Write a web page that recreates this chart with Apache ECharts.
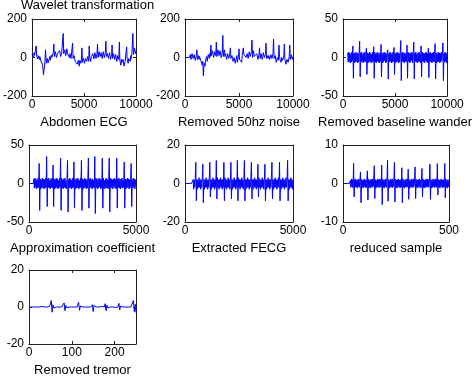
<!DOCTYPE html>
<html><head><meta charset="utf-8">
<script src="https://cdn.jsdelivr.net/npm/echarts@6/dist/echarts.min.js"></script>
<style>html,body{margin:0;padding:0;background:#fff}#c{width:474px;height:378px}</style>
</head><body><div id="c"></div>
<script>
const FIG_TITLE = 'Wavelet transformation';
const panelNames = ['Abdomen ECG','Removed 50hz noise','Removed baseline wander','Approximation coefficient','Extracted FECG','reduced sample','Removed tremor'];
const xMaxes = [10000,10000,10000,5000,5000,500,250];
const xSteps = [50,50,50,25,25,2.5,2];
const xTickLabels = [[0,5000,10000],[0,5000,10000],[0,5000,10000],[0,5000],[0,5000],[0,500],[0,100,200]];
const yLimits = [200,200,50,50,20,10,20];
const yTickLabels = [[-200,0,200],[-200,0,200],[-50,0,50],[-50,0,50],[-20,0,20],[-10,0,10],[-20,0,20]];

const abdomenECG = [
 20,30,10,-2,25,12,5,18,60,5,
 0,-8,10,2,-10,5,-5,-18,-25,-10,
 -35,-55,-90,-65,-50,-20,40,-15,-30,-5,
 -15,-28,-20,-8,5,-15,-10,12,0,-5,
 10,25,70,5,10,30,20,0,5,20,
 30,10,15,35,25,5,10,22,30,15,
 125,20,15,40,30,10,20,45,35,15,
 10,25,0,20,15,-5,-10,5,75,-5,
 -15,10,-5,-20,-30,-10,-20,-35,-40,-15,
 -25,-45,-15,-20,-30,-10,50,-25,-20,-5,
 -10,-30,-25,-5,0,-20,-15,5,-5,-20,
 60,0,-10,-20,5,15,-5,20,10,-8,
 0,25,15,-5,5,20,70,0,10,30,
 20,5,0,25,15,-5,5,30,20,0,
 10,25,85,5,0,20,15,-5,5,25,
 10,-10,-5,15,65,-5,0,20,10,-10,
 -5,15,5,-20,-15,10,0,-10,80,-15,
 -20,-40,-10,-25,-30,-10,-20,-45,-35,-20,
 -15,-30,55,-10,-20,-30,-5,5,-15,-20,
 10,-5,20,30,125,15,30,50,45,20,
 35];
const removed50hz = [
 0,0,0,0,0,0,0,0,0,5,
 15,-10,5,20,25,-5,0,15,10,-15,
 -5,10,40,-10,0,10,-10,5,15,-15,
 -25,-5,-40,-20,-95,-50,-30,-45,-15,-5,
 5,-20,-10,15,10,-5,20,5,65,10,
 15,35,25,0,10,30,30,10,80,5,
 20,40,35,10,15,35,30,0,10,25,
 115,5,25,40,5,20,20,-10,0,20,
 15,-5,-10,20,50,-5,-15,10,-5,-20,
 -25,0,-10,-30,-30,-5,10,-25,-15,5,
 45,-10,-20,0,-5,-25,10,0,50,15,
 5,25,20,0,0,20,15,-5,5,30,
 25,5,10,30,90,0,20,35,5,15,
 15,-5,-5,20,10,-10,-10,15,50,-5,
 0,20,15,-10,5,25,20,0,0,20,
 75,-5,10,20,-5,10,15,-10,0,15,
 10,-5,-10,20,95,-5,-15,10,5,-25,
 -20,0,-5,-15,65,5,-10,-20,-25,0,
 5,-15,-20,10,70,-10,-15,-35,-30,-10,
 0,-25,-15,5,65,-10,-5,15,10,-10,
 0];
const removedBaseline = [
 null,null,null,null,null,null,null,null,null,6,
 -6,7,-5,6,-7,4,-6,7,-4,15,
 -27,6,-7,5,-6,7,-5,6,-7,5,
 -6,7,21,-25,6,-5,7,-6,4,-7,
 6,-5,7,-6,5,12,-22,6,-7,5,
 -6,7,-5,6,-7,4,-6,7,-5,14,
 -27,7,-6,5,-7,6,-5,7,-6,4,
 -7,6,-5,17,-25,6,-7,5,-6,7,
 -4,6,-7,5,-6,7,10,-28,5,-6,
 7,-5,6,-7,4,-6,7,-5,13,-22,
 6,-7,5,-6,7,-5,6,-7,5,-6,
 7,22,-30,6,-5,7,-6,5,-7,6,
 -5,4,-6,16,-27,7,-5,6,-7,5,
 -6,7,-4,6,-7,5,20,-28,6,-5,
 7,-6,4,-7,6,-5,7,-6,5,-7,
 15,-25,7,-5,6,-6,5,-7,6,-4,
 7,-6,5,-7,12,-26,6,-5,7,-6,
 5,-7,6,-5,7,-6,4,18,-28,6,
 -7,5,-6,7,-5,6,-7,5,-6,7,
 -4,6,19,-30,5,-6,7,-5,6,-7,
 5];
const approxCoeff = [
 0,0,0,0,0,0,0,0,0,6,
 -6,7,-5,6,-7,4,-6,7,-5,26,
 -35,6,-7,5,-6,7,-5,6,-7,5,
 -6,7,-5,35,-30,6,-5,7,-6,4,
 -7,6,-5,7,-6,24,-30,6,-7,5,
 -6,7,-5,6,-7,4,-6,7,-5,33,
 -35,7,-6,5,-7,6,-5,7,-6,4,
 -7,6,30,-37,5,-6,7,-5,6,-7,
 4,-6,7,-5,28,-32,6,-7,5,-6,
 7,-5,6,-7,4,-6,7,-5,30,-35,
 6,-7,5,-6,7,-5,6,-7,5,-6,
 7,33,-32,6,-5,7,-6,5,-7,6,
 -5,4,-6,35,-39,7,-5,6,-7,5,
 -6,7,-4,6,-7,5,-6,33,-32,7,
 -6,4,-7,6,-5,7,-6,5,-7,6,
 33,-37,7,-5,6,-6,5,-7,6,-4,
 7,-6,5,-7,33,-32,6,-5,7,-6,
 5,-7,6,-5,7,-6,4,-5,28,-32,
 6,-7,5,-6,7,-5,6,-7,5,-6,
 7,26,-30,5,-6,7,-5,6,-7,5,
 -4];
const extractedFECG = [
 0,0,0,0,0,0,0,0,0,0,
 0,0,0,0,0,2,-3,2,-2,3,
 11,-9,2,-3,2,-2,3,-2,2,-3,
 2,-2,3,10,-10,2,-3,2,-2,3,
 -2,2,-3,2,-2,3,11,-7,2,-3,
 2,-2,3,-2,2,-3,2,-2,12,-8,
 3,-2,2,-3,2,-2,3,-2,2,-3,
 2,-2,11,-9,3,-2,2,-3,2,-2,
 3,-2,2,-3,2,11,-8,2,-3,2,
 -2,3,-2,2,-3,2,-2,12,-9,3,
 -2,2,-3,2,-2,3,-2,2,-3,2,
 12,-9,2,-3,2,-2,3,-2,2,-3,
 2,-2,3,11,-8,2,-3,2,-2,3,
 -2,2,-3,2,-2,10,-7,3,-2,2,
 -3,2,-2,3,-2,2,-3,2,10,-9,
 2,-3,2,-2,3,-2,2,-3,2,-2,
 3,11,-8,2,-3,2,-2,3,-2,2,
 -3,2,-2,3,-2,11,-9,2,-3,2,
 -2,3,-2,2,-3,2,-2,3,-2,2,
 12,-9,2,-3,2,-2,3,-2,2,-3,
 2];
const reducedSample = [
 0,0,0,0,0,0,0,0,0,0,
 0,0,0,0,0.8,-1,1.2,-0.8,1,-1.2,
 5.2,-3.5,1,-0.9,1.2,-1,0.8,-1.2,1,-0.8,
 1.2,-1,0.9,3,-5,1.1,-1,0.8,-1.2,1,
 -0.8,1.2,-1,0.9,-1.1,1,3.3,-4.3,1.2,-1,
 0.8,-1.2,1,-0.9,1.1,-1,1.2,-0.8,1,4.6,
 -3.9,1,-1.2,0.8,-1,1.2,-0.9,1,-1.1,1.2,
 -0.8,1,-1,4.8,-5.5,1.1,-1,0.9,-1.2,1,
 -0.8,1.2,-1,0.9,6.1,-4.6,1,-1.2,0.8,-1,
 1.2,-0.9,1,-1.1,1.2,-0.8,1,5.5,-4.8,1.1,
 -1,0.9,-1.2,1,-0.8,1.2,-1,0.9,-1.1,1,
 -0.9,4.1,-5,1.2,-1,0.8,-1.2,1,-0.9,1.1,
 -1,1.2,-0.8,3.7,-4.1,1,-1.2,0.8,-1,1.2,
 -0.9,1,-1.1,1.2,-0.8,1,4.3,-3.9,1.1,-1,
 0.9,-1.2,1,-0.8,1.2,-1,0.9,-1.1,1,3.9,
 -3.5,1.2,-1,0.8,-1.2,1,-0.9,1.1,-1,1.2,
 -0.8,1,-1,0.9,5,-4.1,1,-1.2,0.8,-1,
 1.2,-0.9,1,-1.1,1.2,-0.8,1,-1,5.2,-3,
 1.1,-1,0.9,-1.2,1,-0.8,1.2,-1,0.9,-1.1,
 1,-0.9,5.2,-3.7,1.2,-1,0.8,-1.2,1,-0.9,
 1];
const removedTremor = [
 0,0,0,0,0,0,0,0,0,0,
 0,0,0,0,0,0.3,0,0,0,0,
 0,0,0,0,0.4,1.5,3.5,-2.8,1.2,-0.5,
 0.3,0,0,0,0,0,-0.4,0,0,0,
 0.5,2.2,-2,0.8,-0.3,0,0,0,0,0,
 0,-0.3,0,0,0,0,0,0.4,2.5,-1.8,
 0.5,0,0,0,0,0,0,-0.4,0,0,
 0,0,0,0.3,1.2,-2.5,0.8,0,0,0,
 0,0,0,0,0,0.3,0,0,0,1.8,
 -2,1,-0.4,0,0,0,0,0,0,0,
 0,-0.3,0,0,0,2,-1.5,0.5,0,0,
 0,0,0,0,0,0,0,0.3,0,0,
 0,1,3.5,-2.5,1.5,-3];

const seriesValues = [abdomenECG, removed50hz, removedBaseline, approxCoeff, extractedFECG, reducedSample, removedTremor];

// layout (pixels): left, top, width, height
const boxes = [[29,19,107,77],[185,19,108,77],[343,19,106,77],[29,145,107,77],[185,145,108,77],[343,145,106,77],[29,270,107,77]];
const FONT = '"Liberation Sans", Arial, Helvetica, sans-serif';
const lineCol = '#222';
const plain = v => String(v);

const grid = [], xAxis = [], yAxis = [], series = [];
boxes.forEach((b, i) => {
  grid.push({left: b[0], top: b[1], width: b[2], height: b[3], containLabel: false});
  ['bottom','top'].forEach(pos => {
    xAxis.push({
      type: 'value', gridIndex: i, position: pos, min: 0, max: xMaxes[i],
      axisLine: {show: true, onZero: false, lineStyle: {color: lineCol, width: 1}},
      axisTick: {show: true, inside: true, length: 3, customValues: xTickLabels[i], lineStyle: {color: lineCol}},
      axisLabel: {show: pos === 'bottom', customValues: xTickLabels[i], formatter: plain, margin: 3, fontSize: 12, color: '#000', fontFamily: FONT},
      splitLine: {show: false},
      name: pos === 'bottom' ? panelNames[i] : '', nameLocation: 'middle', nameGap: 20,
      nameTextStyle: {fontSize: 13, color: '#000', fontFamily: FONT}
    });
  });
  ['left','right'].forEach(pos => {
    yAxis.push({
      type: 'value', gridIndex: i, position: pos, min: -yLimits[i], max: yLimits[i],
      axisLine: {show: true, onZero: false, lineStyle: {color: lineCol, width: 1}},
      axisTick: {show: true, inside: true, length: 3, customValues: yTickLabels[i], lineStyle: {color: lineCol}},
      axisLabel: {show: pos === 'left', customValues: yTickLabels[i], formatter: plain, margin: 5, fontSize: 12, color: '#000', fontFamily: FONT},
      splitLine: {show: false}
    });
  });
  const data = [];
  seriesValues[i].forEach((v, k) => { if (v !== null) data.push([k * xSteps[i], v]); });
  series.push({
    type: 'line', xAxisIndex: 2 * i, yAxisIndex: 2 * i, data: data,
    showSymbol: false, symbol: 'none', silent: true, clip: true,
    lineStyle: {color: '#0000ff', width: 1}
  });
});

const chart = echarts.init(document.getElementById('c'), null, {renderer: 'canvas'});
chart.setOption({
  animation: false,
  backgroundColor: '#fff',
  title: [{text: FIG_TITLE, left: 21, top: -1, padding: 0,
    textStyle: {fontSize: 13, fontWeight: 'normal', color: '#000', fontFamily: FONT}}],
  grid: grid, xAxis: xAxis, yAxis: yAxis, series: series
});
</script>
</body></html>
